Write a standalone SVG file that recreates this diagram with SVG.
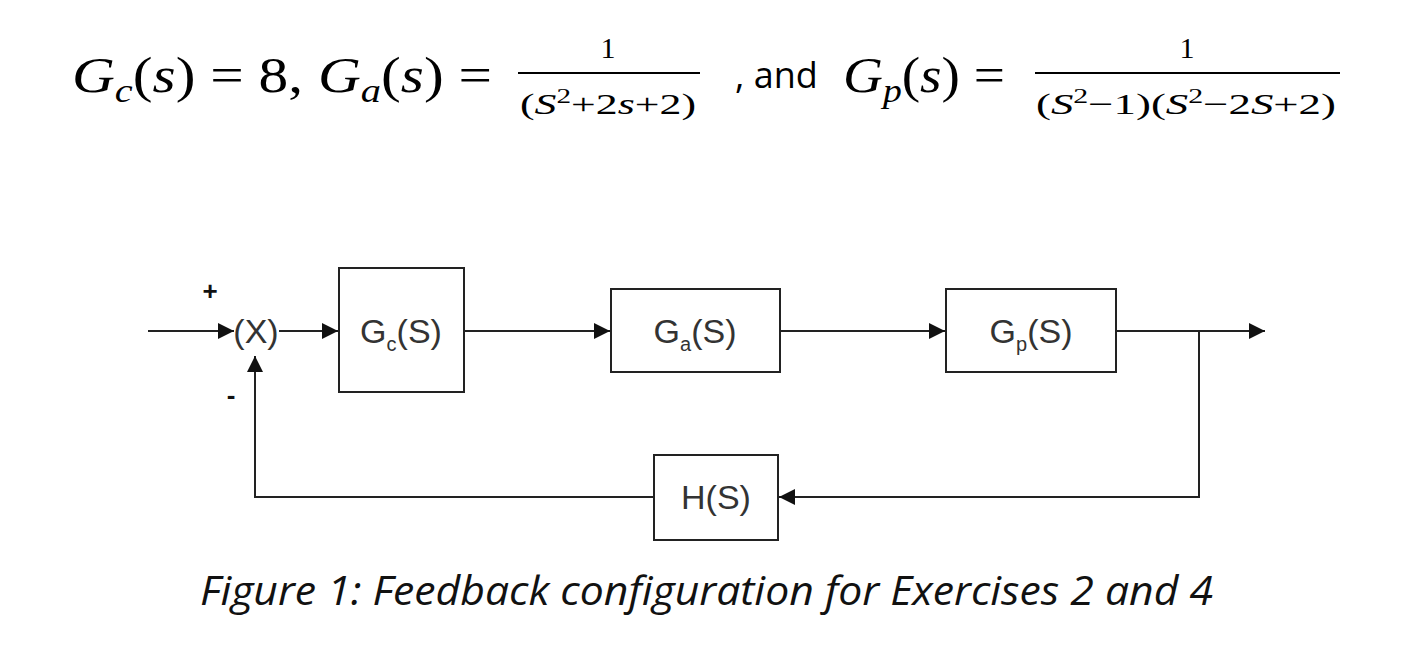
<svg xmlns="http://www.w3.org/2000/svg" width="1418" height="648" viewBox="0 0 1418 648">
<style>
.ln{stroke:#222;stroke-width:2;fill:none}
.bx{stroke:#222;stroke-width:2;fill:#fff}
.lb{font-family:"Liberation Sans",Arial,sans-serif;font-size:34px;fill:#333;text-anchor:middle}
.eq{font-family:"Liberation Serif",serif;font-style:italic;font-size:50px;fill:#000}
.num{font-family:"Liberation Serif",serif;font-size:30px;fill:#000;text-anchor:middle}
.den{font-family:"Liberation Serif",serif;font-size:30px;fill:#000}
</style>
<defs>
<marker id="b" viewBox="0 0 10 10" refX="10" refY="5" markerWidth="20" markerHeight="16" markerUnits="userSpaceOnUse" orient="auto"><path d="M0,0L10,5L0,10z" fill="#111"/></marker></defs>
<rect width="1418" height="648" fill="#fff"/>
<g id="equation">
<text class="eq" x="72" y="92" textLength="420" lengthAdjust="spacingAndGlyphs">G<tspan font-size="34" dy="10">c</tspan><tspan dy="-10" font-style="normal">(</tspan>s<tspan font-style="normal">) =  8, </tspan>G<tspan font-size="34" dy="10">a</tspan><tspan dy="-10" font-style="normal">(</tspan>s<tspan font-style="normal">) =</tspan></text>
<text class="num" x="608" y="58">1</text>
<line x1="518" y1="73" x2="700" y2="73" stroke="#000" stroke-width="2"/>
<text class="den" x="520" y="114" textLength="176" lengthAdjust="spacingAndGlyphs">(<tspan font-style="italic">S</tspan><tspan font-size="20" dy="-11">2</tspan><tspan dy="11">+2</tspan><tspan font-style="italic">s</tspan>+2)</text>
<text x="735" y="88" font-family="'Open Sans','Liberation Sans',sans-serif" font-size="36">, and</text>
<text class="eq" x="843" y="92" textLength="162" lengthAdjust="spacingAndGlyphs">G<tspan font-size="34" dy="10">p</tspan><tspan dy="-10" font-style="normal">(</tspan>s<tspan font-style="normal">) =</tspan></text>
<text class="num" x="1187" y="58">1</text>
<line x1="1035" y1="73" x2="1340" y2="73" stroke="#000" stroke-width="2"/>
<text class="den" x="1036" y="114" textLength="300" lengthAdjust="spacingAndGlyphs">(<tspan font-style="italic">S</tspan><tspan font-size="20" dy="-11">2</tspan><tspan dy="11">−1)(</tspan><tspan font-style="italic">S</tspan><tspan font-size="20" dy="-11">2</tspan><tspan dy="11">−2</tspan><tspan font-style="italic">S</tspan>+2)</text>
</g>
<g id="connectors">
<path class="ln" d="M148,331H234" marker-end="url(#b)"/>
<path class="ln" d="M279,331H338" marker-end="url(#b)"/>
<path class="ln" d="M464,331H610" marker-end="url(#b)"/>
<path class="ln" d="M780,331H945" marker-end="url(#b)"/>
<path class="ln" d="M1116,331H1265" marker-end="url(#b)"/>
<path class="ln" d="M1199,331V497H779" marker-end="url(#b)"/>
<path class="ln" d="M654,497H255V356" marker-end="url(#b)"/>
</g>
<g id="sum"><text class="lb" x="256" y="343" font-size="32">(X)</text>
<text x="210" y="300" font-family="'Liberation Sans',sans-serif" font-weight="bold" font-size="26" text-anchor="middle" fill="#111">+</text>
<text x="231" y="404" font-family="'Liberation Sans',sans-serif" font-weight="bold" font-size="26" text-anchor="middle" fill="#111">-</text></g>
<g id="Gc"><rect class="bx" x="339" y="268" width="125" height="124"/><text class="lb" x="401" y="343">G<tspan font-size="20" dy="8">c</tspan><tspan dy="-8">(S)</tspan></text></g>
<g id="Ga"><rect class="bx" x="611" y="289" width="169" height="83"/><text class="lb" x="695" y="343">G<tspan font-size="20" dy="8">a</tspan><tspan dy="-8">(S)</tspan></text></g>
<g id="Gp"><rect class="bx" x="946" y="289" width="170" height="83"/><text class="lb" x="1031" y="343">G<tspan font-size="20" dy="8">p</tspan><tspan dy="-8">(S)</tspan></text></g>
<g id="H"><rect class="bx" x="654" y="455" width="124" height="85"/><text class="lb" x="716" y="509">H(S)</text></g>
<text x="200" y="605" textLength="1013" lengthAdjust="spacingAndGlyphs" font-family="'Open Sans','Liberation Sans',sans-serif" font-style="italic" font-size="40" fill="#111">Figure 1: Feedback configuration for Exercises 2 and 4</text>
</svg>
